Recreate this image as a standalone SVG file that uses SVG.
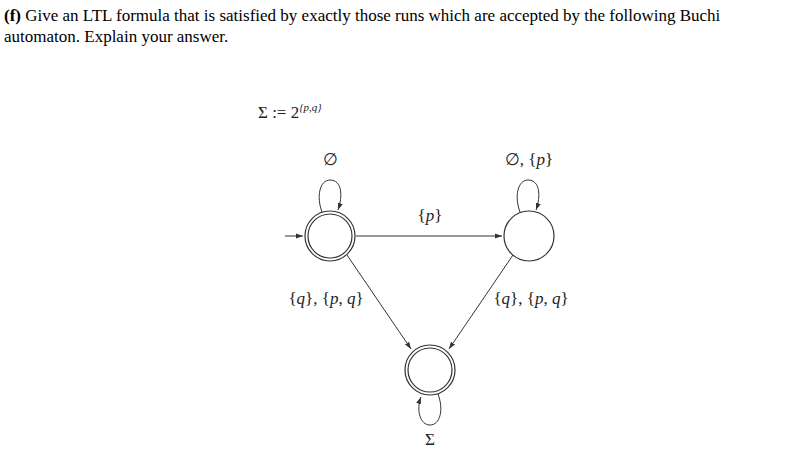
<svg xmlns="http://www.w3.org/2000/svg" width="787" height="461" viewBox="0 0 787 461">
<style>
.t{font-family:"Liberation Serif",serif;font-size:17px;fill:#000}
.m{font-family:"Liberation Serif",serif;font-size:17px;fill:#222}
.n{fill:#fff;stroke:#333;stroke-width:1.2}
.c{fill:none;stroke:#333;stroke-width:1}
</style>
<defs><marker id="a" markerWidth="8" markerHeight="8" refX="7" refY="4" orient="auto" markerUnits="userSpaceOnUse"><path d="M0,1.5 L7,4 L0,6.5 Z" fill="#333"/></marker></defs>
<rect width="787" height="461" fill="#fff"/>
<text class="t" x="4" y="21"><tspan font-weight="bold">(f)</tspan> Give an LTL formula that is satisfied by exactly those runs which are accepted by the following Buchi</text>
<text class="t" x="4" y="42">automaton. Explain your answer.</text>
<text class="m" x="258" y="118">Σ := 2<tspan font-size="11" dy="-7" font-style="italic">{p,q}</tspan></text>
<g id="connectors">
<path class="c" d="M285,236 L303,236" marker-end="url(#a)"/>
<path class="c" d="M322,212 C316,196 320,180 330,180 C342,180 343,196 338,210" marker-end="url(#a)"/>
<path class="c" d="M520,212 C514,196 518,180 528,180 C540,180 541,196 536,210" marker-end="url(#a)"/>
<path class="c" d="M356,236 L502,236" marker-end="url(#a)"/>
<path class="c" d="M347,255 L411,349" marker-end="url(#a)"/>
<path class="c" d="M513,255 L449,349" marker-end="url(#a)"/>
<path class="c" d="M438,394 C444,410 440,425 430,425 C420,425 416,410 421,397" marker-end="url(#a)"/>
</g>
<g id="n1"><circle class="n" cx="330" cy="236" r="25"/><circle class="n" cx="330" cy="236" r="22"/></g>
<g id="n2"><circle class="n" cx="529" cy="236" r="25"/></g>
<g id="n3"><circle class="n" cx="430" cy="370" r="25"/><circle class="n" cx="430" cy="370" r="22"/></g>
<g id="labels">
<text class="m" x="330" y="165" text-anchor="middle">∅</text>
<text class="m" x="529" y="165" text-anchor="middle">∅, {<tspan font-style="italic">p</tspan>}</text>
<text class="m" x="430" y="221" text-anchor="middle">{<tspan font-style="italic">p</tspan>}</text>
<text class="m" x="326" y="304" text-anchor="middle">{<tspan font-style="italic">q</tspan>}, {<tspan font-style="italic">p</tspan>, <tspan font-style="italic">q</tspan>}</text>
<text class="m" x="531" y="304" text-anchor="middle">{<tspan font-style="italic">q</tspan>}, {<tspan font-style="italic">p</tspan>, <tspan font-style="italic">q</tspan>}</text>
<text class="m" x="430" y="445" text-anchor="middle">Σ</text>
</g>
</svg>
